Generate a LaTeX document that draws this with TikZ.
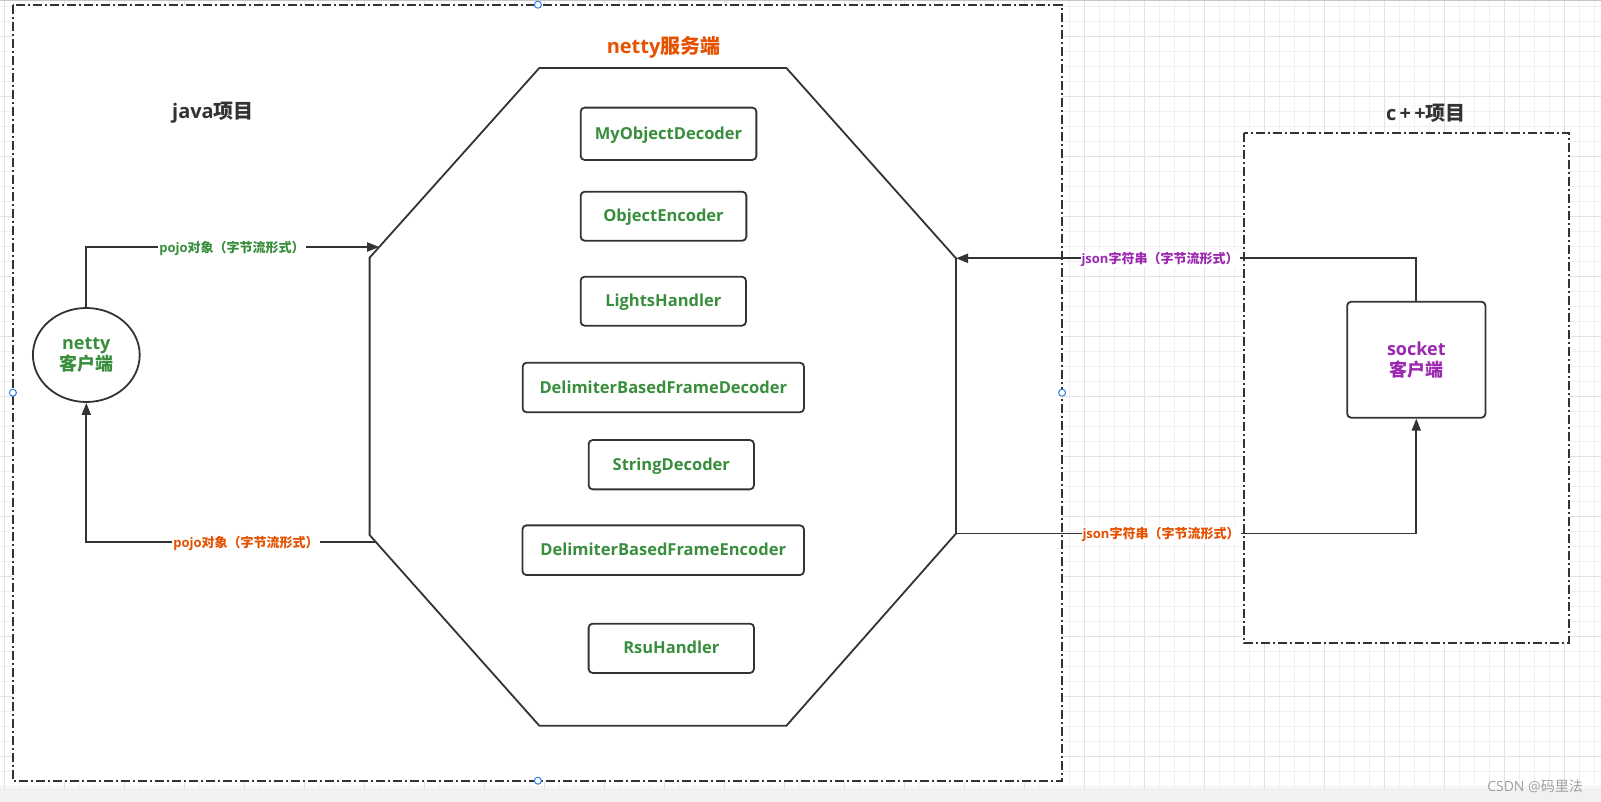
\documentclass[tikz,border=0pt]{standalone}
\usepackage{fontspec}
\IfFontExistsTF{Noto Sans Bold}{\setmainfont{Noto Sans}[BoldFont={Noto Sans Bold}]}{%
  \IfFontExistsTF{Open Sans Bold}{\setmainfont{Open Sans}[BoldFont={Open Sans Bold}]}{%
    \setmainfont{Noto Sans CJK SC}}}
\newfontfamily\cjk{Noto Sans CJK SC}
\usetikzlibrary{arrows.meta,shapes.geometric,calc}
\definecolor{ln}{HTML}{333333}
\definecolor{grn}{HTML}{388E3C}
\definecolor{org}{HTML}{E65100}
\definecolor{pur}{HTML}{9C27B0}
\definecolor{gmin}{HTML}{F0F0F0}
\definecolor{gmaj}{HTML}{E2E2E2}
\definecolor{hblue}{HTML}{2F7FE8}
\definecolor{band}{HTML}{F1F1F1}
\newcommand{\zh}[1]{{\cjk #1}}
\begin{document}
\begin{tikzpicture}[x=1pt,y=-1pt,
  dashdot/.style={draw=ln,line width=1.8pt,dash pattern=on 9pt off 3pt on 2pt off 3pt},
  stage/.style={draw=ln,line width=1.8pt,rounded corners=4pt,text=grn,font=\fontsize{16.5}{20}\selectfont\bfseries,inner sep=0pt,text height=12.5pt,text depth=1.5pt},
  client/.style={draw=ln,line width=1.8pt,font=\fontsize{18}{21}\selectfont\bfseries,align=center,inner sep=0pt},
  flow/.style={draw=ln,line width=1.8pt,-{Triangle[length=12pt,width=9pt]}},
  elabel/.style={fill=white,inner sep=1pt,font=\fontsize{13}{15}\selectfont\bfseries},
  title/.style={font=\fontsize{20}{24}\selectfont\bfseries,text=ln},
  handle/.style={circle,draw=hblue,fill=white,inner sep=0pt,minimum size=7pt,line width=1pt}
]
\useasboundingbox (0,0) rectangle (1601,802);
% canvas grid
\foreach \i in {0,...,106} \draw[gmin,line width=1pt] ({4.3+15*\i},0) -- ({4.3+15*\i},788);
\foreach \j in {0,...,52} \draw[gmin,line width=1pt] (0,{6.7+15*\j}) -- (1601,{6.7+15*\j});
\foreach \i in {0,...,26} \draw[gmaj,line width=1pt] ({4.3+60*\i},0) -- ({4.3+60*\i},788);
\foreach \j in {0,...,12} \draw[gmaj,line width=1pt] (0,{36.7+60*\j}) -- (1601,{36.7+60*\j});
\fill[band] (0,788) rectangle (1601,802);
\draw[gray!45,line width=1pt] (0,0.5) -- (1601,0.5);
% group boxes
\fill[white] (12.9,4.7) rectangle (1062.1,780.7);
\draw[dashdot] (12.9,4.7) rectangle (1062.1,780.7);
\fill[white] (1243.6,132.7) rectangle (1568.9,642.7);
\draw[dashdot] (1243.6,132.7) rectangle (1568.9,642.7);
% titles
\node[title] (tj) at (213,113) {java\zh{项目}};
\node[title] (tc) at (1426,113) {c\,+\,+\zh{项目}};
\node[title,text=org] (tn) at (663.6,47.5) {netty\zh{服务端}};
% octagon
\coordinate (o1) at (539.3,68);
\coordinate (o2) at (786.4,68);
\coordinate (o3) at (956,258.3);
\coordinate (o4) at (956,533.5);
\coordinate (o5) at (786.4,725.7);
\coordinate (o6) at (539.3,725.7);
\coordinate (o7) at (369.6,535);
\coordinate (o8) at (369.6,257.7);
\draw[ln,line width=1.8pt] (o1)--(o2)--(o3)--(o4)--(o5)--(o6)--(o7)--(o8)--cycle;
\coordinate (in1) at ($(o8)!0.0564!(o1)$);
\coordinate (out1) at ($(o7)!0.038!(o6)$);
% stages
\node[stage,minimum width=175.7pt,minimum height=52.3pt] (b1) at (668.5,133.8) {MyObjectDecoder};
\node[stage,minimum width=165.7pt,minimum height=49pt] (b2) at (663.5,216.2) {ObjectEncoder};
\node[stage,minimum width=165.3pt,minimum height=49pt] (b3) at (663.3,301.2) {LightsHandler};
\node[stage,minimum width=281.3pt,minimum height=49.6pt] (b4) at (663.3,387.5) {DelimiterBasedFrameDecoder};
\node[stage,minimum width=165.3pt,minimum height=49.3pt] (b5) at (671.3,464.7) {StringDecoder};
\node[stage,minimum width=281.5pt,minimum height=49.7pt] (b6) at (663.2,550.2) {DelimiterBasedFrameEncoder};
\node[stage,minimum width=165.4pt,minimum height=49.3pt] (b7) at (671.3,648.3) {RsuHandler};
% clients
\node[client,ellipse,minimum width=106.8pt,minimum height=94pt,text=grn] (nc) at (86.3,355) {netty\\\zh{客户端}};
\node[client,rectangle,rounded corners=4pt,minimum width=138.3pt,minimum height=116pt,text=pur] (sc) at (1416.3,359.7) {socket\\\zh{客户端}};
% connectors
\draw[flow] (nc.north) |- (in1);
\draw[flow] (out1) -| (nc.south);
\draw[flow] (sc.north) |- (o3);
\draw[flow] (o4) -| (sc.south);
% connector labels
\node[elabel,text=grn] (l1) at (232,248) {pojo\zh{对象（字节流形式）}};
\node[elabel,text=org] (l2) at (246,543) {pojo\zh{对象（字节流形式）}};
\node[elabel,text=pur] (l3) at (1160,259) {json\zh{字符串（字节流形式）}};
\node[elabel,text=org] (l4) at (1161,534.5) {json\zh{字符串（字节流形式）}};
% selection handles
\node[handle] (h1) at (12.9,392.7) {};
\node[handle] (h2) at (537.9,4.7) {};
\node[handle] (h3) at (537.9,780.7) {};
\node[handle] (h4) at (1062.1,392.7) {};
% watermark
\node[font=\fontsize{14}{16}\selectfont,text=gray!75] (wm) at (1535,786) {CSDN @\zh{码里法}};
\end{tikzpicture}
\end{document}
